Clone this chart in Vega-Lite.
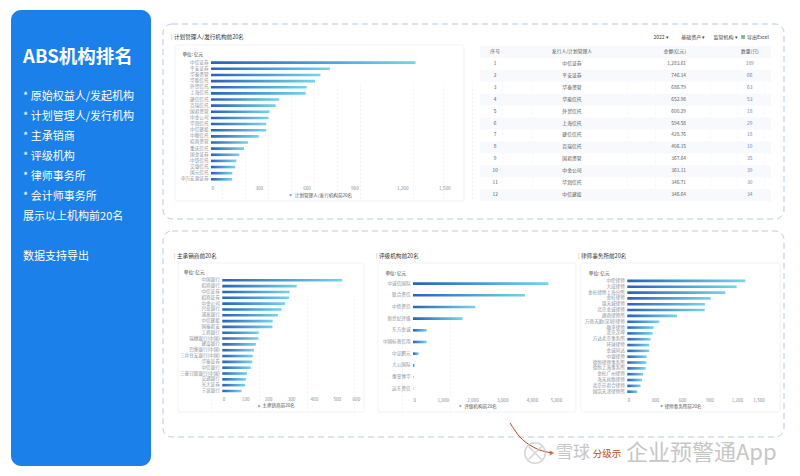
{
  "$schema": "https://vega.github.io/schema/vega-lite/v6.json",
  "width": 800,
  "height": 476,
  "autosize": {"type": "fit", "contains": "padding"},
  "padding": 0,
  "background": "white",
  "datasets": {
    "issuers": [
      {"name": "中信证券", "value": 1283.61}, {"name": "平安证券", "value": 746.14}, {"name": "华泰资管", "value": 686.79},
      {"name": "华能信托", "value": 652.98}, {"name": "外贸信托", "value": 600.29}, {"name": "上海信托", "value": 594.58},
      {"name": "建信信托", "value": 428.76}, {"name": "百瑞信托", "value": 406.15}, {"name": "国君资管", "value": 367.64},
      {"name": "中金公司", "value": 361.11}, {"name": "华润信托", "value": 346.71}, {"name": "中信建投", "value": 346.64},
      {"name": "中粮信托", "value": 300}, {"name": "招商资管", "value": 232}, {"name": "重庆信托", "value": 207},
      {"name": "国金证券", "value": 178}, {"name": "中铁信托", "value": 159}, {"name": "交银信托", "value": 152},
      {"name": "国元信托", "value": 134}, {"name": "申万宏源证券", "value": 133}
    ],
    "underwriters": [
      {"name": "中国银行", "value": 523}, {"name": "招商银行", "value": 325}, {"name": "中信证券", "value": 294},
      {"name": "招商证券", "value": 291}, {"name": "中金公司", "value": 274}, {"name": "兴业银行", "value": 259},
      {"name": "浦发银行", "value": 243}, {"name": "中信建投", "value": 220}, {"name": "国泰君安", "value": 219},
      {"name": "工商银行", "value": 159}, {"name": "瑞穗银行(中国)", "value": 158}, {"name": "建设银行", "value": 147},
      {"name": "巴黎银行(中国)", "value": 138}, {"name": "三井住友银行(中国)", "value": 133}, {"name": "华泰证券", "value": 131},
      {"name": "中信银行", "value": 124}, {"name": "三菱日联银行(中国)", "value": 108}, {"name": "交通银行", "value": 103},
      {"name": "光大证券", "value": 100}, {"name": "宁波银行", "value": 84}
    ],
    "raters": [
      {"name": "中诚信国际", "value": 4552}, {"name": "联合资信", "value": 3767}, {"name": "中债资信", "value": 2096},
      {"name": "新世纪评级", "value": 1670}, {"name": "东方金诚", "value": 460}, {"name": "中国标普信用", "value": 458},
      {"name": "中证鹏元", "value": 190}, {"name": "大公国际", "value": 56}, {"name": "惠誉博华", "value": 20},
      {"name": "远东资信", "value": 15}
    ],
    "lawyers": [
      {"name": "中伦律师", "value": 1292}, {"name": "大成律师", "value": 1197}, {"name": "金杜律师上海分所", "value": 1073},
      {"name": "金杜律师", "value": 912}, {"name": "锦天城律师", "value": 850}, {"name": "北京金诚律师", "value": 847},
      {"name": "通商律师所", "value": 544}, {"name": "万商天勤(深圳)律师", "value": 350}, {"name": "融孚律师", "value": 288},
      {"name": "北京汉坤", "value": 277}, {"name": "方达北京事务所", "value": 255}, {"name": "环球律师", "value": 241},
      {"name": "金诚同达", "value": 240}, {"name": "中银律师", "value": 212}, {"name": "德恒律师事务所", "value": 208},
      {"name": "德恒上海事务所", "value": 201}, {"name": "金杜广州律师", "value": 172}, {"name": "海天丝路律师", "value": 161},
      {"name": "北京市君合律师", "value": 146}, {"name": "国浩天津律师所", "value": 109}
    ],
    "table": [
      {"序号": "序号", "名称": "发行人/计划管理人", "金额": "金额(亿元)", "数量": "数量(只)"},
      {"序号": "1", "名称": "中信证券", "金额": "1,283.61", "数量": "109"},
      {"序号": "2", "名称": "平安证券", "金额": "746.14", "数量": "66"},
      {"序号": "3", "名称": "华泰资管", "金额": "686.79", "数量": "63"},
      {"序号": "4", "名称": "华能信托", "金额": "652.98", "数量": "53"},
      {"序号": "5", "名称": "外贸信托", "金额": "600.29", "数量": "18"},
      {"序号": "6", "名称": "上海信托", "金额": "594.58", "数量": "29"},
      {"序号": "7", "名称": "建信信托", "金额": "428.76", "数量": "18"},
      {"序号": "8", "名称": "百瑞信托", "金额": "406.15", "数量": "10"},
      {"序号": "9", "名称": "国君资管", "金额": "367.64", "数量": "35"},
      {"序号": "10", "名称": "中金公司", "金额": "361.11", "数量": "39"},
      {"序号": "11", "名称": "华润信托", "金额": "346.71", "数量": "30"},
      {"序号": "12", "名称": "中信建投", "金额": "346.64", "数量": "34"}
    ]
  },
  "layer": [
    {
      "data": {"values": [{"box": "sidebar"}]},
      "mark": {"type": "rect", "fill": "#1b80ea", "cornerRadius": 10},
      "encoding": {
        "x": {"datum": 0, "type": "quantitative", "axis": null, "scale": {"domain": [0, 1], "range": [11, 151], "nice": false}},
        "x2": {"datum": 1},
        "y": {"datum": 0, "type": "quantitative", "axis": null, "scale": {"domain": [0, 1], "range": [10, 466], "nice": false}},
        "y2": {"datum": 1}
      }
    },
    {
      "data": {"values": [{"line": "ABS机构排名"}]},
      "mark": {"type": "text", "align": "left", "baseline": "middle", "fontSize": 18.5, "fontWeight": "bold", "color": "white"},
      "encoding": {
        "text": {"field": "line"},
        "x": {"datum": 0.086, "type": "quantitative", "axis": null, "scale": {"domain": [0, 1], "range": [11, 151], "nice": false}},
        "y": {"datum": 0, "type": "quantitative", "axis": null, "scale": {"domain": [0, 1], "range": [57, 97], "nice": false}}
      }
    },
    {
      "data": {"values": [
        {"row": 0, "line": "* 原始权益人/发起机构"}, {"row": 1, "line": "* 计划管理人/发行机构"}, {"row": 2, "line": "* 主承销商"},
        {"row": 3, "line": "* 评级机构"}, {"row": 4, "line": "* 律师事务所"}, {"row": 5, "line": "* 会计师事务所"},
        {"row": 6, "line": "\u00a0展示以上机构前20名"}, {"row": 8, "line": "\u00a0\u00a0\u00a0\u00a0数据支持导出"}
      ]},
      "mark": {"type": "text", "align": "left", "baseline": "middle", "fontSize": 11, "color": "white"},
      "encoding": {
        "text": {"field": "line"},
        "x": {"datum": 0.086, "type": "quantitative", "axis": null, "scale": {"domain": [0, 1], "range": [11, 151], "nice": false}},
        "y": {"field": "row", "type": "quantitative", "axis": null, "scale": {"domain": [0, 8], "range": [97, 257], "nice": false}}
      }
    },
    {
      "data": {"values": [{"box": "top"}]},
      "mark": {"type": "rect", "fill": null, "stroke": "#b7cbe0", "strokeWidth": 1, "strokeDash": [6, 4], "cornerRadius": 9},
      "encoding": {
        "x": {"datum": 0, "type": "quantitative", "axis": null, "scale": {"domain": [0, 1], "range": [163, 784], "nice": false}},
        "x2": {"datum": 1},
        "y": {"datum": 0, "type": "quantitative", "axis": null, "scale": {"domain": [0, 1], "range": [24, 219], "nice": false}},
        "y2": {"datum": 1}
      }
    },
    {
      "data": {"values": [{"box": "bottom"}]},
      "mark": {"type": "rect", "fill": null, "stroke": "#b7cbe0", "strokeWidth": 1, "strokeDash": [6, 4], "cornerRadius": 9},
      "encoding": {
        "x": {"datum": 0, "type": "quantitative", "axis": null, "scale": {"domain": [0, 1], "range": [163, 784], "nice": false}},
        "x2": {"datum": 1},
        "y": {"datum": 0, "type": "quantitative", "axis": null, "scale": {"domain": [0, 1], "range": [231, 437], "nice": false}},
        "y2": {"datum": 1}
      }
    },
    {
      "data": {"values": [{"box": "card"}]},
      "mark": {"type": "rect", "fill": null, "stroke": "#f0f3f8", "cornerRadius": 2},
      "encoding": {
        "x": {"datum": 0, "type": "quantitative", "axis": null, "scale": {"domain": [0, 1], "range": [175, 464], "nice": false}},
        "x2": {"datum": 1},
        "y": {"datum": 0, "type": "quantitative", "axis": null, "scale": {"domain": [0, 1], "range": [45, 201], "nice": false}},
        "y2": {"datum": 1}
      }
    },
    {
      "data": {"values": [{"box": "card"}]},
      "mark": {"type": "rect", "fill": null, "stroke": "#f0f3f8", "cornerRadius": 2},
      "encoding": {
        "x": {"datum": 0, "type": "quantitative", "axis": null, "scale": {"domain": [0, 1], "range": [178, 364], "nice": false}},
        "x2": {"datum": 1},
        "y": {"datum": 0, "type": "quantitative", "axis": null, "scale": {"domain": [0, 1], "range": [263, 412], "nice": false}},
        "y2": {"datum": 1}
      }
    },
    {
      "data": {"values": [{"box": "card"}]},
      "mark": {"type": "rect", "fill": null, "stroke": "#f0f3f8", "cornerRadius": 2},
      "encoding": {
        "x": {"datum": 0, "type": "quantitative", "axis": null, "scale": {"domain": [0, 1], "range": [378, 576], "nice": false}},
        "x2": {"datum": 1},
        "y": {"datum": 0, "type": "quantitative", "axis": null, "scale": {"domain": [0, 1], "range": [263, 412], "nice": false}},
        "y2": {"datum": 1}
      }
    },
    {
      "data": {"values": [{"box": "card"}]},
      "mark": {"type": "rect", "fill": null, "stroke": "#f0f3f8", "cornerRadius": 2},
      "encoding": {
        "x": {"datum": 0, "type": "quantitative", "axis": null, "scale": {"domain": [0, 1], "range": [581, 780], "nice": false}},
        "x2": {"datum": 1},
        "y": {"datum": 0, "type": "quantitative", "axis": null, "scale": {"domain": [0, 1], "range": [263, 412], "nice": false}},
        "y2": {"datum": 1}
      }
    },
    {
      "data": {"values": [{"heading": "计划管理人/发行机构前20名"}]},
      "layer": [
        {"mark": {"type": "text", "align": "left", "baseline": "middle", "fontSize": 5.6, "color": "#8aa0b8", "text": "|"}},
        {"mark": {"type": "text", "align": "left", "baseline": "middle", "fontSize": 5.6, "color": "#333333", "dx": 3}, "encoding": {"text": {"field": "heading"}}}
      ],
      "encoding": {
        "x": {"datum": 0, "type": "quantitative", "axis": null, "scale": {"domain": [0, 1], "range": [171, 271], "nice": false}},
        "y": {"datum": 0, "type": "quantitative", "axis": null, "scale": {"domain": [0, 1], "range": [37, 47], "nice": false}}
      }
    },
    {
      "data": {"values": [{"heading": "主承销商前20名"}, {"heading": "评级机构前20名"}, {"heading": "律师事务所前20名"}]},
      "layer": [
        {"mark": {"type": "text", "align": "left", "baseline": "middle", "fontSize": 5.6, "color": "#d29a55", "text": "|"}},
        {"mark": {"type": "text", "align": "left", "baseline": "middle", "fontSize": 5.6, "color": "#333333", "dx": 3}, "encoding": {"text": {"field": "heading"}}}
      ],
      "encoding": {
        "x": {"field": "heading", "type": "nominal", "sort": null, "axis": null, "scale": {"type": "point", "padding": 0, "range": [174, 578]}},
        "y": {"datum": 0, "type": "quantitative", "axis": null, "scale": {"domain": [0, 1], "range": [256, 266], "nice": false}}
      }
    },
    {
      "data": {"name": "issuers"},
      "mark": {"type": "bar", "height": 2.6, "color": {"gradient": "linear", "x1": 0, "x2": 1, "y1": 0, "y2": 0, "stops": [{"offset": 0, "color": "#2a62b8"}, {"offset": 1, "color": "#74d4ea"}]}},
      "encoding": {
        "x": {"field": "value", "type": "quantitative", "scale": {"domain": [0, 1500], "range": [211, 450], "nice": false},
          "axis": {"orient": "bottom", "offset": -293.6, "values": [0, 300, 600, 900, 1200, 1500], "format": ",.0f", "grid": true, "title": "计划管理人/发行机构前20名", "titleX": 323, "titleY": 12.6}},
        "y": {"field": "name", "type": "nominal", "sort": null, "scale": {"type": "band", "range": [59.6, 182.4], "paddingInner": 0, "paddingOuter": 0},
          "axis": {"orient": "left", "offset": -211, "title": "单位: 亿元", "titleX": -29, "titleY": 54}}
      }
    },
    {
      "data": {"name": "underwriters"},
      "mark": {"type": "bar", "height": 2.6, "color": {"gradient": "linear", "x1": 0, "x2": 1, "y1": 0, "y2": 0, "stops": [{"offset": 0, "color": "#2a62b8"}, {"offset": 1, "color": "#74d4ea"}]}},
      "encoding": {
        "x": {"field": "value", "type": "quantitative", "scale": {"domain": [0, 600], "range": [222.3, 359.7], "nice": false},
          "axis": {"orient": "bottom", "offset": -82.1, "values": [0, 100, 200, 300, 400, 500, 600], "format": ".0f", "grid": true, "title": "主承销商前20名", "titleX": 278, "titleY": 12}},
        "y": {"field": "name", "type": "nominal", "sort": null, "scale": {"type": "band", "range": [277.4, 393.9], "paddingInner": 0, "paddingOuter": 0},
          "axis": {"orient": "left", "offset": -222.3, "title": "单位: 亿元", "titleX": -39, "titleY": 272}}
      }
    },
    {
      "data": {"name": "raters"},
      "mark": {"type": "bar", "height": 2.6, "color": {"gradient": "linear", "x1": 0, "x2": 1, "y1": 0, "y2": 0, "stops": [{"offset": 0, "color": "#2a62b8"}, {"offset": 1, "color": "#74d4ea"}]}},
      "encoding": {
        "x": {"field": "value", "type": "quantitative", "scale": {"domain": [0, 5000], "range": [413, 561.7], "nice": false},
          "axis": {"orient": "bottom", "offset": -81.5, "values": [0, 1000, 2000, 3000, 4000, 5000], "format": ",.0f", "grid": true, "title": "评级机构前20名", "titleX": 480, "titleY": 12}},
        "y": {"field": "name", "type": "nominal", "sort": null, "scale": {"type": "band", "range": [277.8, 394.5], "paddingInner": 0, "paddingOuter": 0},
          "axis": {"orient": "left", "offset": -413, "title": "单位: 亿元", "titleX": -28, "titleY": 273}}
      }
    },
    {
      "data": {"name": "lawyers"},
      "mark": {"type": "bar", "height": 2.6, "color": {"gradient": "linear", "x1": 0, "x2": 1, "y1": 0, "y2": 0, "stops": [{"offset": 0, "color": "#2a62b8"}, {"offset": 1, "color": "#74d4ea"}]}},
      "encoding": {
        "x": {"field": "value", "type": "quantitative", "scale": {"domain": [0, 1500], "range": [627.3, 764.3], "nice": false},
          "axis": {"orient": "bottom", "offset": -81.4, "values": [0, 300, 600, 900, 1200, 1500], "format": ",.0f", "grid": true, "title": "律师事务所前20名", "titleX": 682.5, "titleY": 12}},
        "y": {"field": "name", "type": "nominal", "sort": null, "scale": {"type": "band", "range": [278, 394.6], "paddingInner": 0, "paddingOuter": 0},
          "axis": {"orient": "left", "offset": -627.3, "title": "单位: 亿元", "titleX": -39, "titleY": 273}}
      }
    },
    {
      "data": {"values": [{"legend": "计划管理人/发行机构前20名"}]},
      "mark": {"type": "point", "shape": "circle", "filled": true, "size": 5, "color": "#2f78c4"},
      "encoding": {
        "x": {"datum": 0, "type": "quantitative", "axis": null, "scale": {"domain": [0, 1], "range": [290.7, 350], "nice": false}},
        "y": {"datum": 0, "type": "quantitative", "axis": null, "scale": {"domain": [0, 1], "range": [195, 205], "nice": false}}
      }
    },
    {
      "data": {"values": [{"legend": "主承销商前20名"}, {"legend": "评级机构前20名"}, {"legend": "律师事务所前20名"}]},
      "mark": {"type": "point", "shape": "circle", "filled": true, "size": 5, "color": "#2f78c4"},
      "encoding": {
        "x": {"field": "legend", "type": "nominal", "sort": null, "axis": null, "scale": {"type": "point", "padding": 0, "range": [259, 661.7]}},
        "y": {"datum": 0, "type": "quantitative", "axis": null, "scale": {"domain": [0, 1], "range": [406, 416], "nice": false}}
      }
    },
    {
      "data": {"name": "table"},
      "transform": [{"filter": {"field": "序号", "oneOf": ["序号", "2", "4", "6", "8", "10", "12"]}}],
      "mark": {"type": "rect", "fill": "#f7f9fc"},
      "encoding": {
        "x": {"datum": 0, "type": "quantitative", "axis": null, "scale": {"domain": [0, 1], "range": [480, 771], "nice": false}},
        "x2": {"datum": 1},
        "y": {"field": "序号", "type": "nominal", "axis": null, "scale": {"type": "band", "domain": ["序号", "1", "2", "3", "4", "5", "6", "7", "8", "9", "10", "11", "12"], "range": [46, 201], "paddingInner": 0, "paddingOuter": 0}}
      }
    },
    {
      "data": {"name": "table"},
      "mark": {"type": "text", "baseline": "middle", "align": "center", "fontSize": 4.8, "color": "#555555"},
      "encoding": {
        "text": {"field": "序号"},
        "x": {"datum": 0.052, "type": "quantitative", "axis": null, "scale": {"domain": [0, 1], "range": [480, 771], "nice": false}},
        "y": {"field": "序号", "type": "nominal", "sort": null, "axis": null, "scale": {"type": "band", "range": [46, 201], "paddingInner": 0, "paddingOuter": 0}}
      }
    },
    {
      "data": {"name": "table"},
      "mark": {"type": "text", "baseline": "middle", "align": "center", "fontSize": 4.8, "color": "#555555"},
      "encoding": {
        "text": {"field": "名称"},
        "x": {"datum": 0.316, "type": "quantitative", "axis": null, "scale": {"domain": [0, 1], "range": [480, 771], "nice": false}},
        "y": {"field": "序号", "type": "nominal", "sort": null, "axis": null, "scale": {"type": "band", "range": [46, 201], "paddingInner": 0, "paddingOuter": 0}}
      }
    },
    {
      "data": {"name": "table"},
      "mark": {"type": "text", "baseline": "middle", "align": "right", "fontSize": 4.8, "color": "#555555"},
      "encoding": {
        "text": {"field": "金额"},
        "x": {"datum": 0.708, "type": "quantitative", "axis": null, "scale": {"domain": [0, 1], "range": [480, 771], "nice": false}},
        "y": {"field": "序号", "type": "nominal", "sort": null, "axis": null, "scale": {"type": "band", "range": [46, 201], "paddingInner": 0, "paddingOuter": 0}}
      }
    },
    {
      "data": {"name": "table"},
      "mark": {"type": "text", "baseline": "middle", "align": "center", "fontSize": 4.8},
      "encoding": {
        "text": {"field": "数量"},
        "color": {"condition": {"test": "datum['序号'] === '序号'", "value": "#555555"}, "value": "#5b7fb0"},
        "x": {"datum": 0.927, "type": "quantitative", "axis": null, "scale": {"domain": [0, 1], "range": [480, 771], "nice": false}},
        "y": {"field": "序号", "type": "nominal", "sort": null, "axis": null, "scale": {"type": "band", "range": [46, 201], "paddingInner": 0, "paddingOuter": 0}}
      }
    },
    {
      "data": {"values": [{"control": "2022 ▾"}, {"control": "基础资产 ▾"}, {"control": "监管机构 ▾"}, {"control": "导出Excel"}]},
      "mark": {"type": "text", "baseline": "middle", "align": "center", "fontSize": 5, "color": "#444444"},
      "encoding": {
        "text": {"field": "control"},
        "x": {"field": "control", "type": "nominal", "sort": null, "axis": null, "scale": {"type": "point", "padding": 0, "range": [661, 758]}},
        "y": {"datum": 0, "type": "quantitative", "axis": null, "scale": {"domain": [0, 1], "range": [37, 47], "nice": false}}
      }
    },
    {
      "data": {"values": [{"icon": "excel"}]},
      "mark": {"type": "point", "shape": "square", "filled": true, "size": 14, "color": "#3f9d5d"},
      "encoding": {
        "x": {"datum": 0.904, "type": "quantitative", "axis": null, "scale": {"domain": [0, 1], "range": [480, 771], "nice": false}},
        "y": {"datum": 0, "type": "quantitative", "axis": null, "scale": {"domain": [0, 1], "range": [37, 47], "nice": false}}
      }
    },
    {
      "data": {"values": [{"a": 0.094, "b": 0.06}, {"a": 0.122, "b": 0.32}, {"a": 0.166, "b": 0.54}, {"a": 0.225, "b": 0.66}]},
      "mark": {"type": "line", "interpolate": "monotone", "color": "#b5492a", "strokeWidth": 1},
      "encoding": {
        "x": {"field": "a", "type": "quantitative", "axis": null, "scale": {"domain": [0, 1], "range": [480, 800], "nice": false}},
        "y": {"field": "b", "type": "quantitative", "axis": null, "scale": {"domain": [0, 1], "range": [420, 470], "nice": false}}
      }
    },
    {
      "data": {"values": [{"logo": "ring"}]},
      "mark": {"type": "point", "shape": "circle", "filled": false, "size": 420, "color": "#c4c4c4", "strokeWidth": 1.5},
      "encoding": {
        "x": {"datum": 0.172, "type": "quantitative", "axis": null, "scale": {"domain": [0, 1], "range": [480, 800], "nice": false}},
        "y": {"datum": 0.66, "type": "quantitative", "axis": null, "scale": {"domain": [0, 1], "range": [420, 470], "nice": false}}
      }
    },
    {
      "data": {"values": [{"logo": "cross"}]},
      "mark": {"type": "point", "shape": "M-1,-1L1,1M1,-1L-1,1", "filled": false, "size": 170, "color": "#c4c4c4", "strokeWidth": 1.5},
      "encoding": {
        "x": {"datum": 0.172, "type": "quantitative", "axis": null, "scale": {"domain": [0, 1], "range": [480, 800], "nice": false}},
        "y": {"datum": 0.66, "type": "quantitative", "axis": null, "scale": {"domain": [0, 1], "range": [420, 470], "nice": false}}
      }
    },
    {
      "data": {"values": [{"mark": "雪球"}]},
      "mark": {"type": "text", "align": "left", "baseline": "middle", "fontSize": 17, "color": "#c6c6c6"},
      "encoding": {
        "text": {"field": "mark"},
        "x": {"datum": 0.2375, "type": "quantitative", "axis": null, "scale": {"domain": [0, 1], "range": [480, 800], "nice": false}},
        "y": {"datum": 0.66, "type": "quantitative", "axis": null, "scale": {"domain": [0, 1], "range": [420, 470], "nice": false}}
      }
    },
    {
      "data": {"values": [{"mark": "企业预警通App"}]},
      "mark": {"type": "text", "align": "left", "baseline": "middle", "fontSize": 22, "color": "#c6c6c6"},
      "encoding": {
        "text": {"field": "mark"},
        "x": {"datum": 0.456, "type": "quantitative", "axis": null, "scale": {"domain": [0, 1], "range": [480, 800], "nice": false}},
        "y": {"datum": 0.66, "type": "quantitative", "axis": null, "scale": {"domain": [0, 1], "range": [420, 470], "nice": false}}
      }
    },
    {
      "data": {"values": [{"mark": "分级示"}]},
      "mark": {"type": "text", "align": "left", "baseline": "middle", "fontSize": 9.5, "color": "#b5492a"},
      "encoding": {
        "text": {"field": "mark"},
        "x": {"datum": 0.352, "type": "quantitative", "axis": null, "scale": {"domain": [0, 1], "range": [480, 800], "nice": false}},
        "y": {"datum": 0.68, "type": "quantitative", "axis": null, "scale": {"domain": [0, 1], "range": [420, 470], "nice": false}}
      }
    },
    {
      "data": {"values": [{"logo": "arrow"}]},
      "mark": {"type": "point", "shape": "triangle-right", "filled": true, "size": 30, "color": "#c4512c"},
      "encoding": {
        "x": {"datum": 0.225, "type": "quantitative", "axis": null, "scale": {"domain": [0, 1], "range": [480, 800], "nice": false}},
        "y": {"datum": 0.66, "type": "quantitative", "axis": null, "scale": {"domain": [0, 1], "range": [420, 470], "nice": false}}
      }
    }
  ],
  "resolve": {
    "scale": {"x": "independent", "y": "independent"},
    "axis": {"x": "independent", "y": "independent"}
  },
  "config": {
    "view": {"stroke": null},
    "font": "Noto Sans CJK SC",
    "text": {"font": "Noto Sans CJK SC"},
    "axis": {
      "labelFont": "Noto Sans CJK SC",
      "titleFont": "Noto Sans CJK SC",
      "labelFontSize": 4.6,
      "labelColor": "#8a919b",
      "labelPadding": 3,
      "ticks": false,
      "domain": false,
      "labelOverlap": false,
      "titleFontSize": 4.6,
      "titleFontWeight": "normal",
      "titleColor": "#555555",
      "titleAngle": 0,
      "titleAlign": "center",
      "titleBaseline": "middle",
      "gridColor": "#e9edf2",
      "gridDash": [2, 2],
      "gridWidth": 0.6
    },
    "axisY": {"grid": false, "titleAlign": "left", "titleColor": "#333333"}
  }
}
